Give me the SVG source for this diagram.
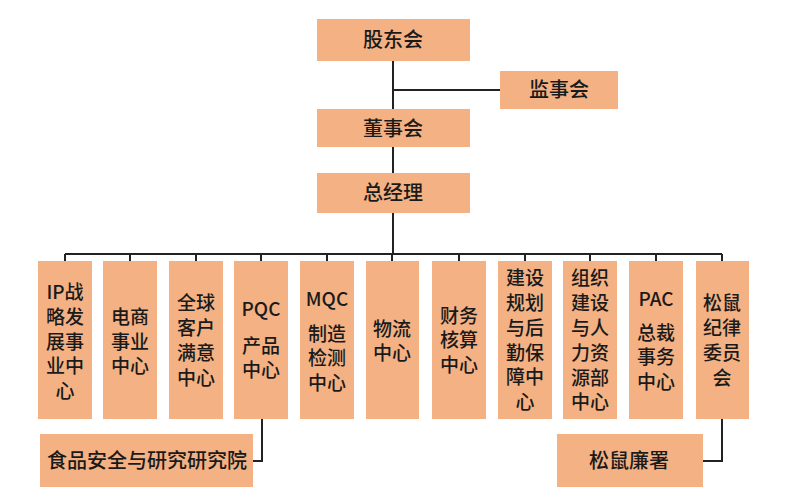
<svg xmlns="http://www.w3.org/2000/svg" width="800" height="503" viewBox="0 0 800 503">
<style>
.box{fill:#F4B183}
.t{font-family:"Noto Sans CJK SC","Noto Sans",sans-serif;font-size:19px;font-weight:500;fill:#1a1a1a;text-anchor:middle}
.big{font-size:20px}
.ln{stroke:#222;stroke-width:2;fill:none}
</style>
<rect width="800" height="503" fill="#ffffff"/>
<g id="connectors">
<path class="ln" d="M393 61V173M393 90H500M393 213V254M65 254H722"/>
<path class="ln" d="M65 254V261M130 254V261M196 254V261M261 254V261M327 254V261M392 254V261M459 254V261M525 254V261M590 254V261M656 254V261M722 254V261"/>
<path class="ln" d="M262 419V461H253M722 419V461H703"/>
</g>
<g id="n-gudonghui"><rect class="box" x="317" y="19" width="153" height="42"/><text class="t big" x="393" y="47">股东会</text></g>
<g id="n-jianshihui"><rect class="box" x="500" y="71" width="118" height="38"/><text class="t big" x="559" y="97">监事会</text></g>
<g id="n-dongshihui"><rect class="box" x="317" y="109" width="153" height="38"/><text class="t big" x="393" y="136">董事会</text></g>
<g id="n-zongjingli"><rect class="box" x="317" y="173" width="153" height="40"/><text class="t big" x="393" y="200">总经理</text></g>
<g id="n-ip"><rect class="box" x="38" y="261" width="54" height="158"/><text class="t" x="65"><tspan x="65" y="299">IP战</tspan><tspan x="65" y="324">略发</tspan><tspan x="65" y="349">展事</tspan><tspan x="65" y="373">业中</tspan><tspan x="65" y="398">心</tspan></text></g>
<g id="n-dianshang"><rect class="box" x="103" y="261" width="54" height="158"/><text class="t" x="130"><tspan x="130" y="324">电商</tspan><tspan x="130" y="349">事业</tspan><tspan x="130" y="373">中心</tspan></text></g>
<g id="n-quanqiu"><rect class="box" x="169" y="261" width="54" height="158"/><text class="t" x="196"><tspan x="196" y="310">全球</tspan><tspan x="196" y="335">客户</tspan><tspan x="196" y="360">满意</tspan><tspan x="196" y="385">中心</tspan></text></g>
<g id="n-pqc"><rect class="box" x="234" y="261" width="54" height="158"/><text class="t" x="261"><tspan x="261" y="316">PQC</tspan><tspan x="261" y="353">产品</tspan><tspan x="261" y="377">中心</tspan></text></g>
<g id="n-mqc"><rect class="box" x="300" y="261" width="54" height="158"/><text class="t" x="327"><tspan x="327" y="306">MQC</tspan><tspan x="327" y="341">制造</tspan><tspan x="327" y="365">检测</tspan><tspan x="327" y="390">中心</tspan></text></g>
<g id="n-wuliu"><rect class="box" x="366" y="261" width="53" height="158"/><text class="t" x="392"><tspan x="392" y="336">物流</tspan><tspan x="392" y="360">中心</tspan></text></g>
<g id="n-caiwu"><rect class="box" x="432" y="261" width="54" height="158"/><text class="t" x="459"><tspan x="459" y="323">财务</tspan><tspan x="459" y="347">核算</tspan><tspan x="459" y="372">中心</tspan></text></g>
<g id="n-jianshe"><rect class="box" x="498" y="261" width="54" height="158"/><text class="t" x="525"><tspan x="525" y="285">建设</tspan><tspan x="525" y="310">规划</tspan><tspan x="525" y="335">与后</tspan><tspan x="525" y="360">勤保</tspan><tspan x="525" y="384">障中</tspan><tspan x="525" y="409">心</tspan></text></g>
<g id="n-zuzhi"><rect class="box" x="563" y="261" width="54" height="158"/><text class="t" x="590"><tspan x="590" y="285">组织</tspan><tspan x="590" y="310">建设</tspan><tspan x="590" y="335">与人</tspan><tspan x="590" y="360">力资</tspan><tspan x="590" y="385">源部</tspan><tspan x="590" y="409">中心</tspan></text></g>
<g id="n-pac"><rect class="box" x="629" y="261" width="54" height="158"/><text class="t" x="656"><tspan x="656" y="306">PAC</tspan><tspan x="656" y="340">总裁</tspan><tspan x="656" y="364">事务</tspan><tspan x="656" y="389">中心</tspan></text></g>
<g id="n-songshu"><rect class="box" x="696" y="261" width="53" height="158"/><text class="t" x="722"><tspan x="722" y="310">松鼠</tspan><tspan x="722" y="335">纪律</tspan><tspan x="722" y="360">委员</tspan><tspan x="722" y="385">会</tspan></text></g>
<g id="n-shipin"><rect class="box" x="40" y="434" width="213" height="53"/><text class="t big" x="147" y="468">食品安全与研究研究院</text></g>
<g id="n-lianshu"><rect class="box" x="557" y="434" width="146" height="53"/><text class="t big" x="629" y="468">松鼠廉署</text></g>
</svg>
